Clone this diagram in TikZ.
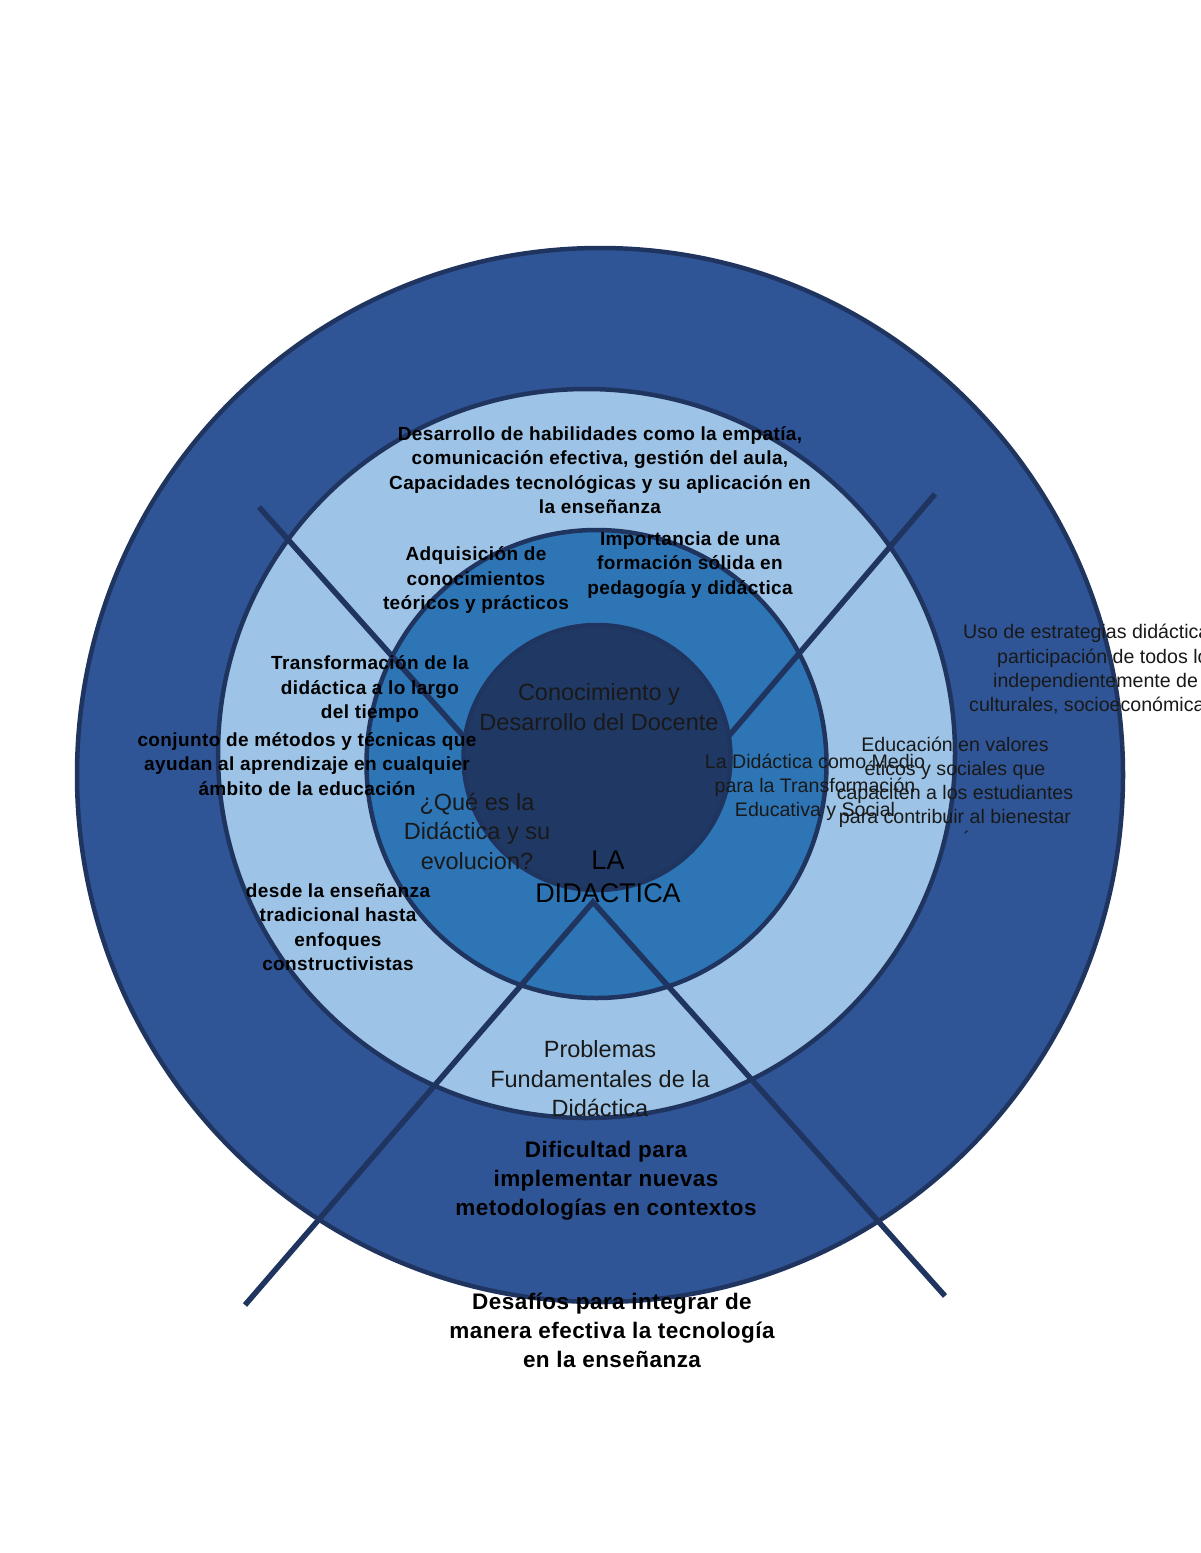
\documentclass[tikz,border=0pt]{standalone}
\usepackage{fontspec}
\setmainfont{Liberation Sans}
\newfontfamily\spacedsans[LetterSpace=2]{Liberation Sans}
\definecolor{ringdark}{HTML}{2F5597}
\definecolor{ringlight}{HTML}{9DC3E6}
\definecolor{ringmid}{HTML}{2E75B6}
\definecolor{ringcore}{HTML}{203864}
\definecolor{edgecol}{HTML}{1F3560}
\tikzset{
  ring/.style={draw=edgecol, line width=4.5pt},
  spoke/.style={draw=edgecol, line width=5.5pt, line cap=butt, line join=miter},
  sbold/.style={font=\spacedsans\fontsize{19}{24.5}\selectfont\bfseries, align=center, text=black, inner sep=0pt},
  lbold/.style={font=\spacedsans\fontsize{22.5}{29}\selectfont\bfseries, align=center, text=black, inner sep=0pt},
  sreg/.style={font=\fontsize{19.6}{24}\selectfont, align=center, text=black!90, inner sep=0pt},
  mreg/.style={font=\fontsize{23.5}{29.5}\selectfont, align=center, text=black!90, inner sep=0pt},
  hreg/.style={font=\fontsize{27}{33}\selectfont, align=center, text=black, inner sep=0pt},
}
\begin{document}
\begin{tikzpicture}[x=1pt, y=-1pt]
\useasboundingbox (0,0) rectangle (1200,1553);
\begin{scope}
\clip (0,0) rectangle (1200,1553);
% rings
\fill[white] (0,0) rectangle (1200,1553);
\draw[ring, fill=ringdark] (600,775) ellipse [x radius=523, y radius=527];
\draw[ring, fill=ringlight] (586.5,753.5) ellipse [x radius=368.5, y radius=364.5];
\draw[ring, fill=ringmid] (596.5,764) ellipse [x radius=230, y radius=234];
% spokes
\coordinate (a1) at (259,507);
\coordinate (a2) at (482,757);
\coordinate (b1) at (935,494);
\coordinate (b2) at (716,751);
\coordinate (apex) at (593,902);
\coordinate (c1) at (245,1305);
\coordinate (d1) at (945,1296);
\draw[spoke] (a1) -- (a2);
\draw[spoke] (b1) -- (b2);
\draw[spoke] (c1) -- (apex) -- (d1);
% core
\draw[ring, fill=ringcore] (597,757.5) ellipse [x radius=133.5, y radius=132.5];
% texts
\node[sbold] (t1) at (600,470) {Desarrollo de habilidades como la empatía,\\comunicación efectiva, gestión del aula,\\Capacidades tecnológicas y su aplicación en\\la enseñanza};
\node[sbold] (t2) at (476,580) {Adquisición de\\conocimientos\\teóricos y prácticos};
\node[sbold] (t3) at (690,565) {Importancia de una\\formación sólida en\\pedagogía y didáctica};
\node[sbold] (t4) at (370,689) {Transformación de la\\didáctica a lo largo\\del tiempo};
\node[sbold] (t5) at (307,764) {conjunto de métodos y técnicas que\\ayudan al aprendizaje en cualquier\\ámbito de la educación};
\node[sbold] (t6) at (338,927) {desde la enseñanza\\tradicional hasta\\enfoques\\constructivistas};
\node[mreg] (t7) at (599,707) {Conocimiento y\\Desarrollo del Docente};
\node[mreg] (t8) at (477,831) {¿Qué es la\\Didáctica y su\\evolucion?};
\node[hreg] (t9) at (608,877) {LA\\DIDACTICA};
\node[sreg] (t10) at (815,787) {La Didáctica como Medio\\para la Transformación\\Educativa y Social};
\node[sreg] (t11) at (955,782) {Educación en valores\\éticos y sociales que\\capaciten a los estudiantes\\para contribuir al bienestar};
\node[sreg] (t11b) at (967,838) {´};
\node[sreg, anchor=west] (u1) at (963,633) {Uso de estrategias didácticas que};
\node[sreg, anchor=west] (u2) at (997,658) {participación de todos los};
\node[sreg, anchor=west] (u3) at (993,682) {independientemente de sus};
\node[sreg, anchor=west] (u4) at (969,706) {culturales, socioeconómicas};
\node[mreg] (t13) at (600,1079) {Problemas\\Fundamentales de la\\Didáctica};
\node[lbold] (t14) at (606,1181) {Dificultad para\\implementar nuevas\\metodologías en contextos};
\node[lbold] (t15) at (612,1330) {Desafíos para integrar de\\manera efectiva la tecnología\\en la enseñanza};
\end{scope}
\end{tikzpicture}
\end{document}
